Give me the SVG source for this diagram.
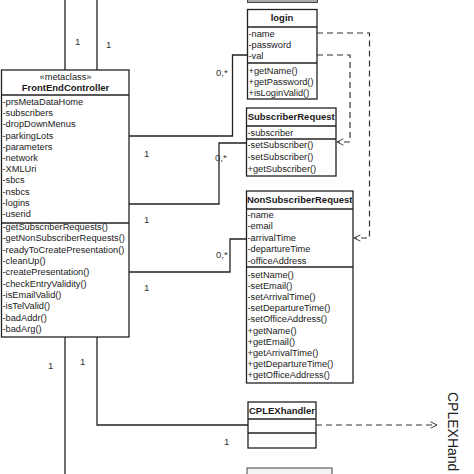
<svg xmlns="http://www.w3.org/2000/svg" width="474" height="474" viewBox="0 0 474 474">
<style>
.box{fill:#fff;stroke:#222;stroke-width:1.3}
.ln{fill:none;stroke:#222;stroke-width:1.3}
.ds{fill:none;stroke:#333;stroke-width:1.2;stroke-dasharray:6 4}
.t{font-family:"Liberation Sans",Arial,sans-serif;font-size:9.25px;fill:#1a1a1a}
.b{font-family:"Liberation Sans",Arial,sans-serif;font-size:9.5px;font-weight:bold;fill:#1a1a1a;text-anchor:middle}
.c{text-anchor:middle}
.m{font-family:"Liberation Sans",Arial,sans-serif;font-size:9.5px;fill:#333}
</style>
<defs>
<marker id="open" viewBox="0 0 10 10" refX="9" refY="5" markerWidth="8" markerHeight="8" markerUnits="userSpaceOnUse" orient="auto">
<path d="M1 1 L9 5 L1 9" fill="none" stroke="#333" stroke-width="1.2"/>
</marker>
</defs>
<rect width="474" height="474" fill="#fff"/>
<g id="connectors">
<path class="ln" d="M65 0 V70 M97 0 V70"/>
<path class="ln" d="M65 337 V474"/>
<path class="ln" d="M97 337 V425 H248"/>
<path class="ln" d="M129 136 H232.5 V55 H247.5"/>
<path class="ln" d="M129 204 H219 V143 H246.5"/>
<path class="ln" d="M129 272 H230 V239 H246.5"/>
<path class="ds" d="M317 33 H369.5 V238 H354" marker-end="url(#open)"/>
<path class="ds" d="M317 55 H350 V142 H337" marker-end="url(#open)"/>
<path class="ds" d="M316 425 H437" marker-end="url(#open)"/>
<text class="m" x="75" y="45">1</text>
<text class="m" x="106" y="48">1</text>
<text class="m" x="144" y="157">1</text>
<text class="m" x="144" y="223">1</text>
<text class="m" x="144" y="291">1</text>
<text class="m" x="48" y="369">1</text>
<text class="m" x="80" y="365">1</text>
<text class="m" x="224" y="445">1</text>
<text class="m" x="216" y="76">0,*</text>
<text class="m" x="215" y="161">0,*</text>
<text class="m" x="216" y="258">0,*</text>
</g>
<g id="FrontEndController">
<rect class="box" x="1.5" y="70" width="127.5" height="267"/>
<line class="ln" x1="1.5" y1="95" x2="129" y2="95"/>
<line class="ln" x1="1.5" y1="223" x2="129" y2="223"/>
<text class="t c" x="65.5" y="79.5">«metaclass»</text>
<text class="b" x="65.5" y="91">FrontEndController</text>
<text class="t" x="2.5" y="105">-prsMetaDataHome</text>
<text class="t" x="2.5" y="116.2">-subscribers</text>
<text class="t" x="2.5" y="127.4">-dropDownMenus</text>
<text class="t" x="2.5" y="138.6">-parkingLots</text>
<text class="t" x="2.5" y="149.8">-parameters</text>
<text class="t" x="2.5" y="161">-network</text>
<text class="t" x="2.5" y="172.2">-XMLUri</text>
<text class="t" x="2.5" y="183.4">-sbcs</text>
<text class="t" x="2.5" y="194.6">-nsbcs</text>
<text class="t" x="2.5" y="205.8">-logins</text>
<text class="t" x="2.5" y="217">-userid</text>
<text class="t" x="2.5" y="230">-getSubscriberRequests()</text>
<text class="t" x="2.5" y="241.3">-getNonSubscriberRequests()</text>
<text class="t" x="2.5" y="252.7">-readyToCreatePresentation()</text>
<text class="t" x="2.5" y="264">-cleanUp()</text>
<text class="t" x="2.5" y="275.4">-createPresentation()</text>
<text class="t" x="2.5" y="286.7">-checkEntryValidity()</text>
<text class="t" x="2.5" y="298.1">-isEmailValid()</text>
<text class="t" x="2.5" y="309.4">-isTelValid()</text>
<text class="t" x="2.5" y="320.8">-badAddr()</text>
<text class="t" x="2.5" y="332.1">-badArg()</text>
</g>
<g id="topbox">
<rect x="247.5" y="-10" width="70" height="12.5" fill="#aaa" stroke="#444" stroke-width="1"/>
</g>
<g id="login">
<rect class="box" x="247.5" y="9.5" width="69.5" height="89.5"/>
<line class="ln" x1="247.5" y1="27" x2="317" y2="27"/>
<line class="ln" x1="247.5" y1="63" x2="317" y2="63"/>
<text class="b" x="282" y="21">login</text>
<text class="t" x="248.5" y="36.5">-name</text>
<text class="t" x="248.5" y="47.7">-password</text>
<text class="t" x="248.5" y="59">-val</text>
<text class="t" x="248.5" y="73.5">+getName()</text>
<text class="t" x="248.5" y="84.6">+getPassword()</text>
<text class="t" x="248.5" y="95.7">+isLoginValid()</text>
</g>
<g id="SubscriberRequest">
<rect class="box" x="246.5" y="108" width="89.5" height="68"/>
<line class="ln" x1="246.5" y1="126" x2="336" y2="126"/>
<line class="ln" x1="246.5" y1="139" x2="336" y2="139"/>
<text class="b" x="291.2" y="119.5">SubscriberRequest</text>
<text class="t" x="247.5" y="135.5">-subscriber</text>
<text class="t" x="247.5" y="148">-setSubscriber()</text>
<text class="t" x="247.5" y="160">-setSubscriber()</text>
<text class="t" x="247.5" y="172">+getSubscriber()</text>
</g>
<g id="NonSubscriberRequest">
<rect class="box" x="246.5" y="191" width="106.5" height="192"/>
<line class="ln" x1="246.5" y1="209" x2="353" y2="209"/>
<line class="ln" x1="246.5" y1="267" x2="353" y2="267"/>
<text class="b" x="299.7" y="202.5">NonSubscriberRequest</text>
<text class="t" x="247.5" y="217.5">-name</text>
<text class="t" x="247.5" y="229">-email</text>
<text class="t" x="247.5" y="240.5">-arrivalTime</text>
<text class="t" x="247.5" y="252">-departureTime</text>
<text class="t" x="247.5" y="263.5">-officeAddress</text>
<text class="t" x="247.5" y="277.5">-setName()</text>
<text class="t" x="247.5" y="288.7">-setEmail()</text>
<text class="t" x="247.5" y="299.9">-setArrivalTime()</text>
<text class="t" x="247.5" y="311.1">-setDepartureTime()</text>
<text class="t" x="247.5" y="322.3">-setOfficeAddress()</text>
<text class="t" x="247.5" y="333.5">+getName()</text>
<text class="t" x="247.5" y="344.7">+getEmail()</text>
<text class="t" x="247.5" y="355.9">+getArrivalTime()</text>
<text class="t" x="247.5" y="367.1">+getDepartureTime()</text>
<text class="t" x="247.5" y="378.3">+getOfficeAddress()</text>
</g>
<g id="CPLEXhandler">
<rect class="box" x="248" y="402" width="68" height="46"/>
<line class="ln" x1="248" y1="419" x2="316" y2="419"/>
<line class="ln" x1="248" y1="433" x2="316" y2="433"/>
<text class="b" x="282" y="413.5">CPLEXhandler</text>
</g>
<g id="bottombox">
<rect x="247" y="468" width="85" height="20" fill="#f4f4f4" stroke="#444" stroke-width="1"/>
</g>
<g id="CPLEXHand">
<text transform="translate(448 392) rotate(90)" font-family="Liberation Sans, Arial, sans-serif" font-size="14" fill="#222">CPLEXHand</text>
</g>
</svg>
